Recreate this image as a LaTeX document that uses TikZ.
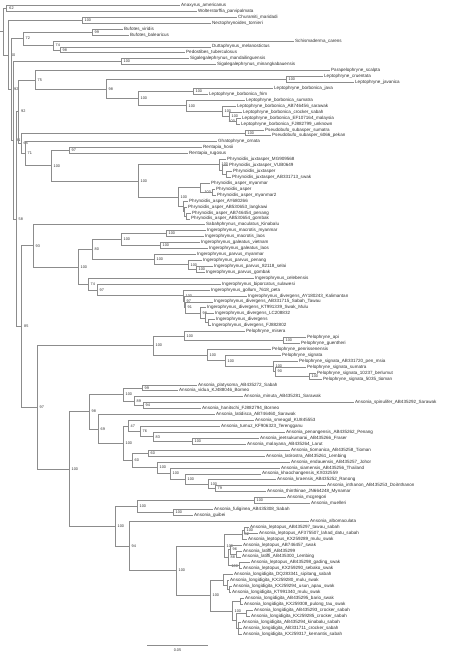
\documentclass[tikz,border=0pt]{standalone}
\usepackage{fontspec}
\setmainfont{Liberation Sans}
\usepackage{tikz}
\definecolor{twiggray}{HTML}{8C8C8C}
\definecolor{labgray}{HTML}{2E2E2E}

\begin{document}
\begin{tikzpicture}[
    x=1pt, y=-5.93pt,
    twig/.style={draw=twiggray, line width=0.55pt},
    taxon/.style={anchor=west, inner xsep=1.5pt, inner ysep=0pt, font=\fontsize{4.55}{5}\selectfont, text=labgray},
    boot/.style={font=\fontsize{3.8}{4}\selectfont, inner sep=0.3pt, text=labgray},
    bs/.style={label={[boot, label distance=2.2pt]0:#1}},
    bsl/.style={label={[boot, label distance=0.6pt]180:#1}},
]
\useasboundingbox (0,-0.894) rectangle (474,109.39);

% Taxa
\node[taxon] (l0) at (179.5,0) {Anaxyrus\_americanus};
\node[taxon] (l1) at (196.5,1) {Wolterstorffia\_parvipalmata};
\node[taxon] (l2) at (236.5,2) {Churamiti\_maridadi};
\node[taxon] (l3) at (210.5,3) {Nectophrynoides\_tornieri};
\node[taxon] (l4) at (122.5,4) {Bufotes\_viridis};
\node[taxon] (l5) at (128.5,5) {Bufotes\_balearicus};
\node[taxon] (l6) at (293.5,6) {Schismaderma\_carens};
\node[taxon] (l7) at (210.5,7) {Duttaphrynus\_melanostictus};
\node[taxon] (l8) at (184.5,8) {Pedostibes\_tuberculosus};
\node[taxon] (l9) at (188.5,9) {Sigalegalephrynus\_mandailinguensis};
\node[taxon] (l10) at (215.5,10) {Sigalegalephrynus\_minangkabauensis};
\node[taxon] (l11) at (329.5,11) {Parapelophryne\_scalpta};
\node[taxon] (l12) at (322.5,12) {Leptophryne\_cruentata};
\node[taxon] (l13) at (353.5,13) {Leptophryne\_javanica};
\node[taxon] (l14) at (272.5,14) {Leptophryne\_borbonica\_java};
\node[taxon] (l15) at (207.5,15) {Leptophryne\_borbonica\_frim};
\node[taxon] (l16) at (244.5,16) {Leptophryne\_borbonica\_sumatra};
\node[taxon] (l17) at (235.5,17) {Leptophryne\_borbonica\_AB746456\_sarawak};
\node[taxon] (l18) at (241.5,18) {Leptophryne\_borbonica\_crocker\_sabah};
\node[taxon] (l19) at (240.5,19) {Leptophryne\_borbonica\_EF107164\_malaysia};
\node[taxon] (l20) at (239.5,20) {Leptophryne\_borbonica\_FJ882799\_unknown};
\node[taxon] (l21) at (263.5,21) {Pseudobufo\_subasper\_sumatra};
\node[taxon] (l22) at (270.5,22) {Pseudobufo\_subasper\_6066\_pekan};
\node[taxon] (l23) at (216.5,23) {Ghatophryne\_ornata};
\node[taxon] (l24) at (201.5,24) {Rentapia\_hosii};
\node[taxon] (l25) at (187.5,25) {Rentapia\_rugosus};
\node[taxon] (l26) at (225.5,26) {Phrynoidis\_juxtasper\_MG909568};
\node[taxon] (l27) at (227.5,27) {Phrynoidis\_juxtasper\_VUB0649};
\node[taxon] (l28) at (231.5,28) {Phrynoidis\_juxtasper};
\node[taxon] (l29) at (230.5,29) {Phrynoidis\_juxtasper\_AB331713\_swak};
\node[taxon] (l30) at (209.5,30) {Phrynoidis\_asper\_myanmar};
\node[taxon] (l31) at (214.5,31) {Phrynoidis\_asper};
\node[taxon] (l32) at (215.5,32) {Phrynoidis\_asper\_myanmar2};
\node[taxon] (l33) at (187.5,33) {Phrynoidis\_asper\_AY680266};
\node[taxon] (l34) at (186.5,34) {Phrynoidis\_asper\_AB530653\_langkawi};
\node[taxon] (l35) at (190.5,35) {Phrynoidis\_asper\_AB746454\_penang};
\node[taxon] (l36) at (189.5,36) {Phrynoidis\_asper\_AB530654\_gombak};
\node[taxon] (l37) at (204.5,37) {Sabahphrynus\_maculatus\_Kinabalu};
\node[taxon] (l38) at (205.5,38) {Ingerophrynus\_macrotis\_myanmar};
\node[taxon] (l39) at (203.5,39) {Ingerophrynus\_macrotis\_laos};
\node[taxon] (l40) at (199.5,40) {Ingerophrynus\_galeatus\_vietnam};
\node[taxon] (l41) at (207.5,41) {Ingerophrynus\_galeatus\_laos};
\node[taxon] (l42) at (195.5,42) {Ingerophrynus\_parvus\_myanmar};
\node[taxon] (l43) at (201.5,43) {Ingerophrynus\_parvus\_penang};
\node[taxon] (l44) at (212.5,44) {Ingerophrynus\_parvus\_82118\_selai};
\node[taxon] (l45) at (204.5,45) {Ingerophrynus\_parvus\_gombak};
\node[taxon] (l46) at (253.5,46) {Ingerophrynus\_celebensis};
\node[taxon] (l47) at (220.5,47) {Ingerophrynus\_biporcatus\_sulawesi};
\node[taxon] (l48) at (209.5,48) {Ingerophrynus\_gollum\_7618\_peta};
\node[taxon] (l49) at (246.5,49) {Ingerophrynus\_divergens\_AY180243\_Kalimantan};
\node[taxon] (l50) at (212.5,50) {Ingerophrynus\_divergens\_AB331715\_Sabah\_Tawau};
\node[taxon] (l51) at (205.5,51) {Ingerophrynus\_divergens\_KT991339\_Swak\_Mulu};
\node[taxon] (l52) at (213.5,52) {Ingerophrynus\_divergens\_LC208832};
\node[taxon] (l53) at (214.5,53) {Ingerophrynus\_divergens};
\node[taxon] (l54) at (210.5,54) {Ingerophrynus\_divergens\_FJ882802};
\node[taxon] (l55) at (244.5,55) {Pelophryne\_misera};
\node[taxon] (l56) at (305.5,56) {Pelophryne\_api};
\node[taxon] (l57) at (299.5,57) {Pelophryne\_guentheri};
\node[taxon] (l58) at (270.5,58) {Pelophryne\_penrissenensis};
\node[taxon] (l59) at (280.5,59) {Pelophryne\_signata};
\node[taxon] (l60) at (297.5,60) {Pelophryne\_signata\_AB331720\_pen\_msia};
\node[taxon] (l61) at (305.5,61) {Pelophryne\_signata\_sumatra};
\node[taxon] (l62) at (315.5,62) {Pelophryne\_signata\_10237\_berlumut};
\node[taxon] (l63) at (321.5,63) {Pelophryne\_signata\_5035\_tioman};
\node[taxon] (l64) at (196.5,64) {Ansonia\_platysoma\_AB435272\_Sabah};
\node[taxon] (l65) at (177.5,65) {Ansonia\_vidua\_KJ488046\_Borneo};
\node[taxon] (l66) at (242.5,66) {Ansonia\_minuta\_AB435281\_Sarawak};
\node[taxon] (l67) at (353.5,67) {Ansonia\_spinulifer\_AB435292\_Sarawak};
\node[taxon] (l68) at (200.5,68) {Ansonia\_hanitschi\_FJ882794\_Borneo};
\node[taxon] (l69) at (214.5,69) {Ansonia\_latidisca\_AB746460\_Sarawak};
\node[taxon] (l70) at (253.5,70) {Ansonia\_smeagol\_KU845553};
\node[taxon] (l71) at (219.5,71) {Ansonia\_tumuz\_KF906323\_Terengganu};
\node[taxon] (l72) at (284.5,72) {Ansonia\_penangensis\_AB435262\_Penang};
\node[taxon] (l73) at (258.5,73) {Ansonia\_jeetsukumarai\_AB435266\_Fraser};
\node[taxon] (l74) at (245.5,74) {Ansonia\_malayana\_AB435264\_Larut};
\node[taxon] (l75) at (289.5,75) {Ansonia\_tiomanica\_AB435258\_Tioman};
\node[taxon] (l76) at (264.5,76) {Ansonia\_latirostra\_AB435261\_Lembing};
\node[taxon] (l77) at (289.5,77) {Ansonia\_endauensis\_AB435257\_Johor};
\node[taxon] (l78) at (279.5,78) {Ansonia\_siamensis\_AB435256\_Thailand};
\node[taxon] (l79) at (260.5,79) {Ansonia\_khaochangensis\_KX032559};
\node[taxon] (l80) at (275.5,80) {Ansonia\_kraensis\_AB435252\_Ranong};
\node[taxon] (l81) at (325.5,81) {Ansonia\_inthanon\_AB435253\_DoiInthanon};
\node[taxon] (l82) at (265.5,82) {Ansonia\_thinthinae\_JN664248\_Mynamar};
\node[taxon] (l83) at (285.5,83) {Ansonia\_mcgregori};
\node[taxon] (l84) at (309.5,84) {Ansonia\_muelleri};
\node[taxon] (l85) at (212.5,85) {Ansonia\_fuliginea\_AB435308\_Sabah};
\node[taxon] (l86) at (192.5,86) {Ansonia\_guibei};
\node[taxon] (l87) at (308.5,87) {Ansonia\_albomaculata};
\node[taxon] (l88) at (248.5,88) {Ansonia\_leptopus\_AB435297\_tawau\_sabah};
\node[taxon] (l89) at (257.5,89) {Ansonia\_leptopus\_AF375507\_lahad\_datu\_sabah};
\node[taxon] (l90) at (246.5,90) {Ansonia\_leptopus\_KX259289\_mulu\_swak};
\node[taxon] (l91) at (241.5,91) {Ansonia\_leptopus\_AB746457\_swak};
\node[taxon] (l92) at (241.5,92) {Ansonia\_latiffi\_AB435299};
\node[taxon] (l93) at (240.5,93) {Ansonia\_latiffi\_AB435300\_Lembing};
\node[taxon] (l94) at (249.5,94) {Ansonia\_leptopus\_AB435298\_gading\_swak};
\node[taxon] (l95) at (241.5,95) {Ansonia\_leptopus\_KX259290\_sebako\_swak};
\node[taxon] (l96) at (232.5,96) {Ansonia\_longidigita\_DQ283341\_sipitang\_sabah};
\node[taxon] (l97) at (228.5,97) {Ansonia\_longidigita\_KX259280\_mulu\_swak};
\node[taxon] (l98) at (231.5,98) {Ansonia\_longidigita\_KX259294\_usun\_apau\_swak};
\node[taxon] (l99) at (230.5,99) {Ansonia\_longidigita\_KT991340\_mulu\_swak};
\node[taxon] (l100) at (243.5,100) {Ansonia\_longidigita\_AB435295\_bario\_swak};
\node[taxon] (l101) at (242.5,101) {Ansonia\_longidigita\_KX259308\_pulong\_tau\_swak};
\node[taxon] (l102) at (252.5,102) {Ansonia\_longidigita\_AB435293\_crocker\_sabah};
\node[taxon] (l103) at (249.5,103) {Ansonia\_longidigita\_KX259285\_crocker\_sabah};
\node[taxon] (l104) at (240.5,104) {Ansonia\_longidigita\_AB435294\_kinabalu\_sabah};
\node[taxon] (l105) at (241.5,105) {Ansonia\_longidigita\_AB331711\_crocker\_sabah};
\node[taxon] (l106) at (241.5,106) {Ansonia\_longidigita\_KX259317\_kemantis\_sabah};

% Internal nodes (bootstrap support)
\coordinate (rstub) at (0,4.43);
\coordinate (root) at (3.5,4.43);
\coordinate[bs=62] (n62) at (6.7,0.5);
\coordinate[bs=60] (n60) at (8.3,8.35);
\coordinate[bs=100] (n100a) at (82,2.5);
\coordinate[bs=92] (n92) at (11.5,14.2);
\coordinate[bs=72] (n72) at (23,5.625);
\coordinate[bs=99] (n99) at (92,4.5);
\coordinate[bs=74] (n74) at (53,6.75);
\coordinate[bs=98] (n98a) at (60,7.5);
\coordinate[bs=81] (n81) at (13.5,22.77);
\coordinate[bs=100] (nsig) at (121,9.5);
\coordinate[bs=58] (n58) at (16,36.03);
\coordinate[bs=92] (n92b) at (18.5,17.91);
\coordinate[bs=75] (n75) at (35,12.56);
\coordinate[bs=98] (n98b) at (106,14.11);
\coordinate[bs=100] (n100c) at (286,12.5);
\coordinate[bs=100] (nborb) at (138,15.72);
\coordinate[bs=100] (n100jf) at (193,14.5);
\coordinate[bs=100] (n100s) at (186,16.94);
\coordinate[bs=100] (n100q1) at (222,17.875);
\coordinate[bs=100] (n100q2) at (229,18.75);
\coordinate[bsl=100] (n100q3) at (236,19.5);
\coordinate[bs=65] (n65) at (21,23.26);
\coordinate[bs=100] (npseudo) at (245,21.5);
\coordinate[bs=71] (n71) at (25,25.02);
\coordinate[bs=100] (n100r) at (51,27.05);
\coordinate[bs=97] (nrent) at (69,24.5);
\coordinate[bs=100] (nphry) at (138,29.6);
\coordinate[bs=100] (nj) at (219,26.875);
\coordinate (nj2) at (222,27.75);
\coordinate (nj3) at (226,28.5);
\coordinate[bs=100] (nasp) at (178,32.31);
\coordinate (nmy) at (200,30.75);
\coordinate[bsl=100] (nmy2) at (212,31.5);
\coordinate (nmal) at (183,33.875);
\coordinate (nmal2) at (184.5,34.75);
\coordinate (nmal3) at (186,35.5);
\coordinate[bs=85] (n85) at (21.5,54.15);
\coordinate[bs=93] (n93) at (33,40.55);
\coordinate[bs=100] (ninger) at (78,44.1);
\coordinate[bs=80] (n80) at (92,41.19);
\coordinate[bs=100] (nmg) at (121,39.5);
\coordinate[bs=100] (nmac) at (166,38.5);
\coordinate[bs=100] (ngal) at (160,40.5);
\coordinate[bs=100] (npv) at (154,42.875);
\coordinate[bs=100] (npv2) at (188,43.75);
\coordinate[bs=100] (npv3) at (196,44.5);
\coordinate[bs=74] (n74b) at (88,47);
\coordinate[bs=97] (n97b) at (97,47.99);
\coordinate[bs=100] (ngd) at (183,48.98);
\coordinate[bs=97] (nd1) at (184,49.97);
\coordinate[bs=91] (nd2) at (185,50.94);
\coordinate[bs=98] (nd3) at (200,51.875);
\coordinate (nd4) at (205,52.75);
\coordinate (nd5) at (208,53.5);
\coordinate[bs=97] (n97) at (37,67.76);
\coordinate[bs=100] (npelo) at (153,57.36);
\coordinate[bs=100] (npm) at (184,55.75);
\coordinate[bs=100] (npa) at (283,56.5);
\coordinate[bs=100] (np2) at (207,58.97);
\coordinate[bs=100] (np3) at (225,59.94);
\coordinate[bs=100] (np100s) at (273,60.875);
\coordinate[bs=90] (np90) at (275,61.75);
\coordinate[bs=100] (npt) at (309,62.5);
\coordinate[bs=100] (nans) at (69,78.16);
\coordinate[bs=98] (n98c) at (89,68.52);
\coordinate[bs=100] (nabor) at (123,65.625);
\coordinate[bs=99] (na99) at (142,64.5);
\coordinate[bs=89] (na89) at (134,66.75);
\coordinate[bs=94] (na94) at (143,67.5);
\coordinate[bs=69] (n69) at (98,71.42);
\coordinate[bs=100] (n100e) at (123,73.84);
\coordinate[bs=47] (n47) at (128,70.94);
\coordinate[bs=76] (n76) at (140,71.875);
\coordinate[bs=83] (n83) at (153,72.75);
\coordinate[bs=100] (n100f) at (192,73.5);
\coordinate[bs=60] (n60b) at (132,76.73);
\coordinate[bs=60] (n60c) at (148,75.5);
\coordinate[bs=100] (n100g) at (157,77.97);
\coordinate[bs=100] (n100h) at (170,78.94);
\coordinate[bs=100] (n100i) at (185,79.875);
\coordinate[bs=100] (n100j) at (208,80.75);
\coordinate[bs=79] (n79) at (215,81.5);
\coordinate[bs=100] (n100d) at (115,87.8);
\coordinate[bs=100] (n100k) at (137,84.5);
\coordinate[bs=100] (n100l) at (254,83.5);
\coordinate[bs=100] (n100m) at (173,85.5);
\coordinate[bs=94] (n94b) at (129,91.15);
\coordinate[bs=100] (n100n) at (176,95.3);
\coordinate[bs=100] (nlep) at (224,91.19);
\coordinate[bs=82] (nl2) at (242,89.25);
\coordinate[bs=100] (nl1) at (244,88.5);
\coordinate[bs=88] (n88) at (228,93.125);
\coordinate[bs=96] (n96) at (230,91.75);
\coordinate (nlat) at (236,92.5);
\coordinate[bsl=100] (nl4) at (239,94.5);
\coordinate[bs=100] (nlong) at (210,99.5);
\coordinate (nup) at (223,96.875);
\coordinate (nup2) at (227,97.75);
\coordinate (nup3) at (229,98.5);
\coordinate[bs=100] (nlow) at (232,102.1);
\coordinate (npr1) at (240,100.5);
\coordinate (nlow2) at (236,103.75);
\coordinate (npr2) at (246,102.5);
\coordinate (ntri) at (238,105);

% Branches
\draw[twig] (rstub) -- (root);
\draw[twig] (root) |- (n62) (root) |- (n60);
\draw[twig] (n62) |- (l0) (n62) |- (l1);
\draw[twig] (n60) |- (n100a) (n60) |- (n92);
\draw[twig] (n100a) |- (l2) (n100a) |- (l3);
\draw[twig] (n92) |- (n72) (n92) |- (n81);
\draw[twig] (n72) |- (n99) (n72) |- (n74);
\draw[twig] (n99) |- (l4) (n99) |- (l5);
\draw[twig] (n74) |- (l6) (n74) |- (n98a);
\draw[twig] (n98a) |- (l7) (n98a) |- (l8);
\draw[twig] (n81) |- (nsig) (n81) |- (n58);
\draw[twig] (nsig) |- (l9) (nsig) |- (l10);
\draw[twig] (n58) |- (n92b) (n58) |- (n85);
\draw[twig] (n92b) |- (n75) (n92b) |- (n65);
\draw[twig] (n75) |- (l11) (n75) |- (n98b);
\draw[twig] (n98b) |- (n100c) (n98b) |- (nborb);
\draw[twig] (n100c) |- (l12) (n100c) |- (l13);
\draw[twig] (nborb) |- (n100jf) (nborb) |- (n100s);
\draw[twig] (n100jf) |- (l14) (n100jf) |- (l15);
\draw[twig] (n100s) |- (l16) (n100s) |- (n100q1);
\draw[twig] (n100q1) |- (l17) (n100q1) |- (n100q2);
\draw[twig] (n100q2) |- (l18) (n100q2) |- (n100q3);
\draw[twig] (n100q3) |- (l19) (n100q3) |- (l20);
\draw[twig] (n65) |- (npseudo) (n65) |- (n71);
\draw[twig] (npseudo) |- (l21) (npseudo) |- (l22);
\draw[twig] (n71) |- (l23) (n71) |- (n100r);
\draw[twig] (n100r) |- (nrent) (n100r) |- (nphry);
\draw[twig] (nrent) |- (l24) (nrent) |- (l25);
\draw[twig] (nphry) |- (nj) (nphry) |- (nasp);
\draw[twig] (nj) |- (l26) (nj) |- (nj2);
\draw[twig] (nj2) |- (l27) (nj2) |- (nj3);
\draw[twig] (nj3) |- (l28) (nj3) |- (l29);
\draw[twig] (nasp) |- (nmy) (nasp) |- (nmal);
\draw[twig] (nmy) |- (l30) (nmy) |- (nmy2);
\draw[twig] (nmy2) |- (l31) (nmy2) |- (l32);
\draw[twig] (nmal) |- (l33) (nmal) |- (nmal2);
\draw[twig] (nmal2) |- (l34) (nmal2) |- (nmal3);
\draw[twig] (nmal3) |- (l35) (nmal3) |- (l36);
\draw[twig] (n85) |- (n93) (n85) |- (n97);
\draw[twig] (n93) |- (l37) (n93) |- (ninger);
\draw[twig] (ninger) |- (n80) (ninger) |- (n74b);
\draw[twig] (n80) |- (nmg) (n80) |- (npv);
\draw[twig] (nmg) |- (nmac) (nmg) |- (ngal);
\draw[twig] (nmac) |- (l38) (nmac) |- (l39);
\draw[twig] (ngal) |- (l40) (ngal) |- (l41);
\draw[twig] (npv) |- (l42) (npv) |- (npv2);
\draw[twig] (npv2) |- (l43) (npv2) |- (npv3);
\draw[twig] (npv3) |- (l44) (npv3) |- (l45);
\draw[twig] (n74b) |- (l46) (n74b) |- (n97b);
\draw[twig] (n97b) |- (l47) (n97b) |- (ngd);
\draw[twig] (ngd) |- (l48) (ngd) |- (nd1);
\draw[twig] (nd1) |- (l49) (nd1) |- (nd2);
\draw[twig] (nd2) |- (l50) (nd2) |- (nd3);
\draw[twig] (nd3) |- (l51) (nd3) |- (nd4);
\draw[twig] (nd4) |- (l52) (nd4) |- (nd5);
\draw[twig] (nd5) |- (l53) (nd5) |- (l54);
\draw[twig] (n97) |- (npelo) (n97) |- (nans);
\draw[twig] (npelo) |- (npm) (npelo) |- (np2);
\draw[twig] (npm) |- (l55) (npm) |- (npa);
\draw[twig] (npa) |- (l56) (npa) |- (l57);
\draw[twig] (np2) |- (l58) (np2) |- (np3);
\draw[twig] (np3) |- (l59) (np3) |- (np100s);
\draw[twig] (np100s) |- (l60) (np100s) |- (np90);
\draw[twig] (np90) |- (l61) (np90) |- (npt);
\draw[twig] (npt) |- (l62) (npt) |- (l63);
\draw[twig] (nans) |- (n98c) (nans) |- (n100d);
\draw[twig] (n98c) |- (nabor) (n98c) |- (n69);
\draw[twig] (nabor) |- (na99) (nabor) |- (na89);
\draw[twig] (na99) |- (l64) (na99) |- (l65);
\draw[twig] (na89) |- (l66) (na89) |- (na94);
\draw[twig] (na94) |- (l67) (na94) |- (l68);
\draw[twig] (n69) |- (l69) (n69) |- (n100e);
\draw[twig] (n100e) |- (n47) (n100e) |- (n60b);
\draw[twig] (n47) |- (l70) (n47) |- (n76);
\draw[twig] (n76) |- (l71) (n76) |- (n83);
\draw[twig] (n83) |- (l72) (n83) |- (n100f);
\draw[twig] (n100f) |- (l73) (n100f) |- (l74);
\draw[twig] (n60b) |- (n60c) (n60b) |- (n100g);
\draw[twig] (n60c) |- (l75) (n60c) |- (l76);
\draw[twig] (n100g) |- (l77) (n100g) |- (n100h);
\draw[twig] (n100h) |- (l78) (n100h) |- (n100i);
\draw[twig] (n100i) |- (l79) (n100i) |- (n100j);
\draw[twig] (n100j) |- (l80) (n100j) |- (n79);
\draw[twig] (n79) |- (l81) (n79) |- (l82);
\draw[twig] (n100d) |- (n100k) (n100d) |- (n94b);
\draw[twig] (n100k) |- (n100l) (n100k) |- (n100m);
\draw[twig] (n100l) |- (l83) (n100l) |- (l84);
\draw[twig] (n100m) |- (l85) (n100m) |- (l86);
\draw[twig] (n94b) |- (l87) (n94b) |- (n100n);
\draw[twig] (n100n) |- (nlep) (n100n) |- (nlong);
\draw[twig] (nlep) |- (nl2) (nlep) |- (n88);
\draw[twig] (nl2) |- (nl1) (nl2) |- (l90);
\draw[twig] (nl1) |- (l88) (nl1) |- (l89);
\draw[twig] (n88) |- (n96) (n88) |- (nl4);
\draw[twig] (n96) |- (l91) (n96) |- (nlat);
\draw[twig] (nlat) |- (l92) (nlat) |- (l93);
\draw[twig] (nl4) |- (l94) (nl4) |- (l95);
\draw[twig] (nlong) |- (nup) (nlong) |- (nlow);
\draw[twig] (nup) |- (l96) (nup) |- (nup2);
\draw[twig] (nup2) |- (l97) (nup2) |- (nup3);
\draw[twig] (nup3) |- (l98) (nup3) |- (l99);
\draw[twig] (nlow) |- (npr1) (nlow) |- (nlow2);
\draw[twig] (npr1) |- (l100) (npr1) |- (l101);
\draw[twig] (nlow2) |- (npr2) (nlow2) |- (ntri);
\draw[twig] (npr2) |- (l102) (npr2) |- (l103);
\draw[twig] (ntri) |- (l104) (ntri) |- (l105) (ntri) |- (l106);

% Scale bar
\coordinate (sb1) at (147,107.87);
\coordinate (sb2) at (208,107.87);
\draw[twig] (sb1) -- (sb2);
\node[boot] (sblab) at (177.5,108.75) {0.05};

\end{tikzpicture}
\end{document}
